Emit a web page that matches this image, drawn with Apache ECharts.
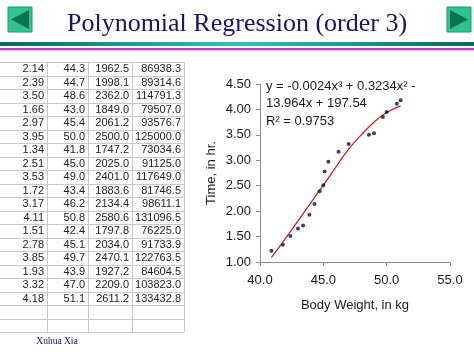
<!DOCTYPE html>
<html>
<head>
<meta charset="utf-8">
<script src="https://cdn.jsdelivr.net/npm/echarts@6/dist/echarts.min.js"></script>
<style>
html,body{margin:0;padding:0;background:#fff;}
#main{width:474px;height:355px;}
</style>
</head>
<body>
<div id="main"></div>
<script>
// ---- data ----
const timeHr = [2.14, 2.39, 3.50, 1.66, 2.97, 3.95, 1.34, 2.51, 3.53, 1.72, 3.17, 4.11, 1.51, 2.78, 3.85, 1.93, 3.32, 4.18];
const weightKg = [44.3, 44.7, 48.6, 43.0, 45.4, 50.0, 41.8, 45.0, 49.0, 43.4, 46.2, 50.8, 42.4, 45.1, 49.7, 43.9, 47.0, 51.1];
const weightSq = [1962.5, 1998.1, 2362.0, 1849.0, 2061.2, 2500.0, 1747.2, 2025.0, 2401.0, 1883.6, 2134.4, 2580.6, 1797.8, 2034.0, 2470.1, 1927.2, 2209.0, 2611.2];
const weightCube = [86938.3, 89314.6, 114791.3, 79507.0, 93576.7, 125000.0, 73034.6, 91125.0, 117649.0, 81746.5, 98611.1, 131096.5, 76225.0, 91733.9, 122763.5, 84604.5, 103823.0, 133432.8];
// a plotted point whose table row is scrolled out of view
const extraWeight = [40.9];
const extraTime = [1.22];
// fitted cubic curve
const curveX = [40.9, 42.0, 43.0, 44.0, 45.0, 46.0, 47.0, 48.0, 49.0, 50.0, 51.1];
const curveY = [1.09, 1.46, 1.81, 2.16, 2.51, 2.87, 3.22, 3.50, 3.75, 3.94, 4.07];
const xTicks = [40, 45, 50, 55];
const yTicks = [1.0, 1.5, 2.0, 2.5, 3.0, 3.5, 4.0, 4.5];
const titleText = 'Polynomial Regression (order 3)';
const eqLines = ['y = -0.0024x\u00b3 + 0.3234x\u00b2 -', '13.964x + 197.54', 'R\u00b2 = 0.9753'];
const authorText = 'Xuhua Xia';

// ---- layout ----
const colRight = [47, 88, 132, 184];
const tableTop = 62, rowH = 13.5, nRows = 20;
const navy = '#14146b';

const graphics = [];
// title
graphics.push({type:'text', style:{text:titleText, x:237, y:24, textAlign:'center', textVerticalAlign:'middle',
  font:'26px "Liberation Serif"', fill:navy}});
// buttons
function button(x, dir){
  graphics.push({type:'rect', shape:{x:x, y:7, width:24, height:25}, style:{fill:'#2fc38f', stroke:'#1f9a70', lineWidth:1}});
  const pts = dir < 0 ? [[x+21,10],[x+21,29],[x+3,19.5]] : [[x+3,10],[x+3,29],[x+21,19.5]];
  graphics.push({type:'polygon', shape:{points:pts}, style:{fill:'#0a7350'}});
}
button(8, -1); button(447, 1);
// header rules
graphics.push({type:'rect', shape:{x:0, y:42, width:474, height:4}, style:{fill:new echarts.graphic.LinearGradient(0,0,1,0,[
  {offset:0,color:'#0a6464'},{offset:0.5,color:'#2cc4c4'},{offset:1,color:'#0a6464'}])}});
graphics.push({type:'rect', shape:{x:0, y:48, width:474, height:2}, style:{fill:'#c935c9'}});
graphics.push({type:'rect', shape:{x:0, y:50, width:474, height:1}, style:{fill:'#e6c8ee'}});
// table grid
for (let i = 0; i <= nRows; i++) {
  const y = Math.round(tableTop + i*rowH) + 0.5;
  graphics.push({type:'line', shape:{x1:0, y1:y, x2:colRight[3], y2:y}, style:{stroke:'#c8c8c8', lineWidth:1}});
}
colRight.forEach(cx => {
  graphics.push({type:'line', shape:{x1:cx+0.5, y1:tableTop, x2:cx+0.5, y2:tableTop+nRows*rowH}, style:{stroke:'#c8c8c8', lineWidth:1}});
});
const cols = [timeHr.map(v=>v.toFixed(2)), weightKg.map(v=>v.toFixed(1)), weightSq.map(v=>v.toFixed(1)), weightCube.map(v=>v.toFixed(1))];
cols.forEach((col, c) => {
  col.forEach((s, r) => {
    graphics.push({type:'text', style:{text:s, x:colRight[c]-3, y:tableTop + (r+0.5)*rowH + 0.5, textAlign:'right', textVerticalAlign:'middle',
      font:'11px "Liberation Sans"', fill:'#222'}});
  });
});
// author
graphics.push({type:'text', style:{text:authorText, x:57, y:341, textAlign:'center', textVerticalAlign:'middle',
  font:'9.5px "Liberation Serif"', fill:navy}});
// equation
const eqY = [86.5, 103, 121.5];
eqLines.forEach((t, i) => {
  graphics.push({type:'text', style:{text:t, x:266, y:eqY[i], textAlign:'left', textVerticalAlign:'middle',
    font:'13px "Liberation Sans"', fill:'#1a1a1a'}});
});

const scatterData = weightKg.map((w, i) => [w, timeHr[i]]).concat(extraWeight.map((w, i) => [w, extraTime[i]]));
const curveData = curveX.map((x, i) => [x, curveY[i]]);

const chart = echarts.init(document.getElementById('main'), null, {renderer:'canvas'});
chart.setOption({
  animation: false,
  backgroundColor: '#fff',
  grid: {left: 260, right: 24, top: 84, bottom: 93},
  xAxis: {
    type: 'value', min: xTicks[0], max: xTicks[xTicks.length-1], interval: 5,
    name: 'Body Weight, in kg', nameLocation: 'middle', nameGap: 37,
    nameTextStyle: {fontSize: 13, color: '#1a1a1a', fontFamily: 'Liberation Sans'},
    axisLine: {lineStyle: {color: '#8a8a8a'}},
    axisTick: {length: 4, lineStyle: {color: '#8a8a8a'}},
    splitLine: {show: false},
    axisLabel: {fontSize: 13, color: '#1a1a1a', fontFamily: 'Liberation Sans', margin: 12, formatter: v => v.toFixed(1)}
  },
  yAxis: {
    type: 'value', min: yTicks[0], max: yTicks[yTicks.length-1], interval: 0.5,
    name: 'Time, in hr.', nameLocation: 'middle', nameGap: 42,
    nameTextStyle: {fontSize: 13, color: '#1a1a1a', fontFamily: 'Liberation Sans'},
    axisLine: {show: true, lineStyle: {color: '#8a8a8a'}},
    axisTick: {show: true, length: 4, lineStyle: {color: '#8a8a8a'}},
    splitLine: {show: false},
    axisLabel: {fontSize: 13, color: '#1a1a1a', fontFamily: 'Liberation Sans', margin: 9, formatter: v => v.toFixed(2)}
  },
  series: [
    {type: 'line', data: curveData, smooth: 0.5, symbol: 'none', lineStyle: {color: '#d42020', width: 1.3}, z: 2},
    {type: 'scatter', data: scatterData, symbol: 'circle', symbolSize: 4, itemStyle: {color: '#0c0c5a'}, z: 3}
  ],
  graphic: graphics
});
</script>
</body>
</html>
